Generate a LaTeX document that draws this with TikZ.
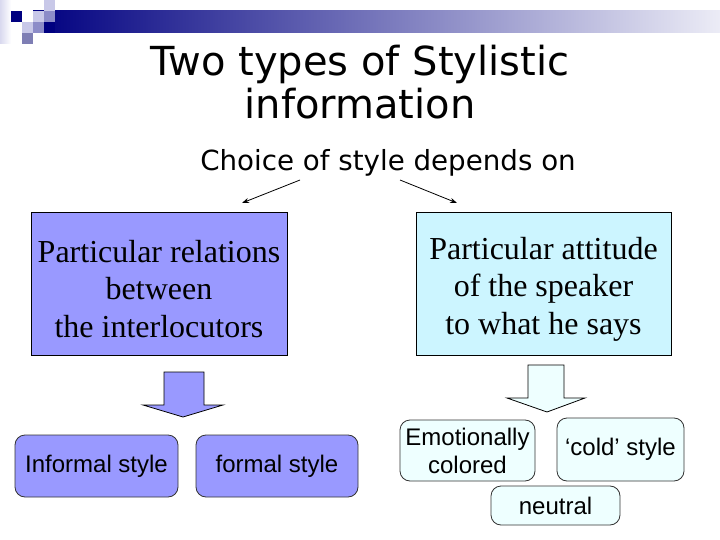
\documentclass[tikz,border=0pt]{standalone}
\usepackage{fontspec}
\setmainfont{Liberation Serif}
\newfontfamily\djv{DejaVu Sans}
\newfontfamily\lsans{Liberation Sans}
\usetikzlibrary{arrows.meta}
\definecolor{navyx}{RGB}{0,0,128}
\definecolor{lavx}{RGB}{200,200,232}
\definecolor{midx}{RGB}{140,140,200}
\definecolor{peri}{RGB}{153,153,255}
\definecolor{cyanbox}{RGB}{204,245,255}
\definecolor{palecyan}{RGB}{238,255,255}
\tikzset{
  sq/.style={draw=none,minimum size=11pt,inner sep=0pt,anchor=north west},
  bigbox/.style={draw=black,line width=1pt,minimum width=256pt,minimum height=142pt,inner sep=0pt},
  bigtext/.style={align=center,font=\fontsize{32}{37.5}\selectfont,inner sep=0pt},
  smallbox/.style={draw=black!80,line width=0.8pt,rounded corners=10pt,align=center,inner sep=0pt,
    font=\lsans\fontsize{24}{28}\selectfont},
  conn/.style={line width=0.8pt,-{Stealth[length=7pt,width=5pt]}},
  blockarrow/.style={draw=black,line width=0.8pt}
}
\begin{document}
\begin{tikzpicture}[x=1pt,y=-1pt]
\useasboundingbox (0,0) rectangle (720,540);
\fill[white] (0,0) rectangle (720,540);
% header decoration
\shade[left color=lavx!70,right color=white] (0,0) rectangle (11,44);
\shade[left color=navyx,right color={rgb,255:red,236;green,236;blue,246}] (33,11) rectangle (720,33);
\node[sq,fill=lavx] (s1) at (44,0) {};
\node[sq,fill=navyx] (s2) at (11,11) {};
\node[sq,fill=lavx] (s3) at (33,11) {};
\node[sq,fill=midx] (s4) at (44,11) {};
\node[sq,fill=lavx] (s5) at (22,22) {};
\node[sq,fill=midx] (s6) at (33,22) {};
\node[sq,fill=navyx] (s7) at (44,22) {};
\node[sq,fill=midx!90!black] (s8) at (22,33) {};
% title
\node[anchor=base,inner sep=0pt,font=\djv\fontsize{40}{44}\selectfont] (t1) at (360,76) {Two types of Stylistic};
\node[anchor=base,inner sep=0pt,font=\djv\fontsize{40}{44}\selectfont] (t2) at (360,119) {information};
\node[anchor=base,inner sep=0pt,font=\djv\fontsize{27.7}{32}\selectfont] (choice) at (388,171) {Choice of style depends on};
\coordinate (cl) at (300,180);
\coordinate (cr) at (400,180);
\coordinate (el) at (242,203);
\coordinate (er) at (457,203);
\draw[conn] (cl) -- (el);
\draw[conn] (cr) -- (er);
% big boxes
\node[bigbox,fill=peri] (lbox) at (159,284) {};
\node[bigtext] (ltext) at (159,289) {Particular relations\\between\\the interlocutors};
\node[bigbox,fill=cyanbox,minimum width=255pt] (rbox) at (543.5,284) {};
\node[bigtext] (rtext) at (543.5,289) {Particular attitude\\of the speaker\\to what he says};
% block arrows
\draw[blockarrow,fill=peri] (164,372) -- (204,372) -- (204,405) -- (223,405) -- (183,417) -- (143,405) -- (164,405) -- cycle;
\draw[blockarrow,fill=palecyan] (528,365) -- (564,365) -- (564,398) -- (585,398) -- (547,412) -- (507,398) -- (528,398) -- cycle;
% small boxes
\node[smallbox,fill=peri,minimum width=163pt,minimum height=62pt] (inf) at (96.5,466) {Informal style};
\node[smallbox,fill=peri,minimum width=162pt,minimum height=62pt] (form) at (277,466) {formal style};
\node[smallbox,fill=palecyan,minimum width=135pt,minimum height=61pt] (emo) at (467.5,450.5) {Emotionally\\colored};
\node[smallbox,fill=palecyan,minimum width=127pt,minimum height=63pt] (cold) at (620.5,449.5) {‘cold’ style};
\node[smallbox,fill=palecyan,minimum width=129pt,minimum height=39pt] (neu) at (555.5,505.5) {neutral};
\end{tikzpicture}
\end{document}
